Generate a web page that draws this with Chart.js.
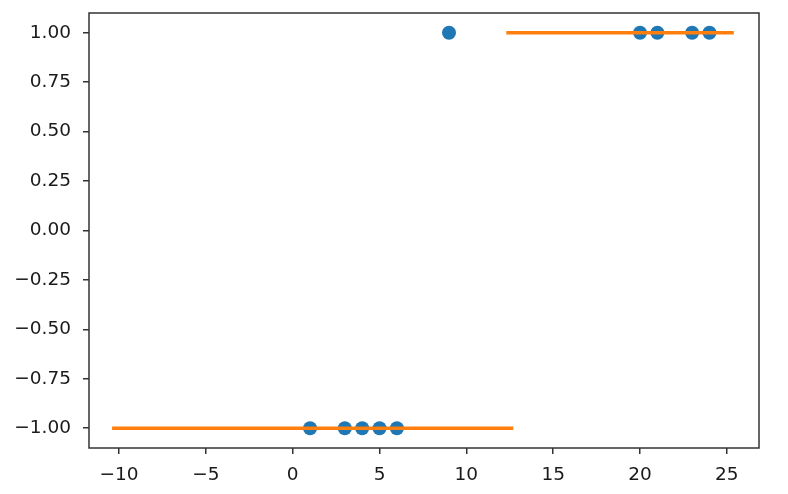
<!DOCTYPE html>
<html>
<head>
<meta charset="utf-8">
<script src="https://cdn.jsdelivr.net/npm/chart.js@4"></script>
<style>
  html, body { margin: 0; padding: 0; background: #fff; }
  #wrap { width: 788px; height: 494px; }
</style>
</head>
<body>
<div id="wrap"><canvas id="c"></canvas></div>
<script>
// sample points (label -1 / +1)
const pointX = [1, 3, 4, 5, 6, 9, 20, 21, 23, 24]
const pointY = [-1, -1, -1, -1, -1, 1, 1, 1, 1, 1]

// fitted step, two flat pieces
const lowLineX = [-10.3, 12.6]
const lowLineY = [-1, -1]
const highLineX = [12.4, 25.3]
const highLineY = [1, 1]

const xTicks = [-10, -5, 0, 5, 10, 15, 20, 25]
const yTicks = [-1, -0.75, -0.5, -0.25, 0, 0.25, 0.5, 0.75, 1]

const zip = (xs, ys) => xs.map((x, i) => ({ x: x, y: ys[i] }))
const minus = v => (v < 0 ? '\u2212' : '')

const font = { family: 'DejaVu Sans', size: 18.5 }
const ink = '#1a1a1a'
const spine = '#333'

// matplotlib style frame on all four sides
const frame = {
    id: 'frame',
    afterDatasetsDraw(chart) {
        const a = chart.chartArea
        const ctx = chart.ctx
        ctx.save()
        ctx.strokeStyle = spine
        ctx.lineWidth = 1.5
        ctx.strokeRect(a.left, a.top, a.right - a.left, a.bottom - a.top)
        ctx.restore()
    }
}

new Chart(document.getElementById('c').getContext('2d'), {
    type: 'scatter',
    data: {
        datasets: [
            {
                type: 'line', data: zip(lowLineX, lowLineY), order: 0,
                borderColor: '#ff7f0e', borderWidth: 3.5, borderCapStyle: 'square',
                pointRadius: 0, fill: false
            },
            {
                type: 'line', data: zip(highLineX, highLineY), order: 0,
                borderColor: '#ff7f0e', borderWidth: 3.5, borderCapStyle: 'square',
                pointRadius: 0, fill: false
            },
            {
                data: zip(pointX, pointY), order: 1,
                backgroundColor: '#1f77b4', borderWidth: 0, pointRadius: 7
            }
        ]
    },
    options: {
        responsive: true,
        maintainAspectRatio: false,
        animation: false,
        layout: { padding: { top: 13, right: 29, left: 0, bottom: 0 } },
        plugins: { legend: { display: false }, tooltip: { enabled: false } },
        scales: {
            x: {
                type: 'linear', min: -11.73, max: 26.85,
                afterBuildTicks: s => { s.ticks = xTicks.map(v => ({ value: v })) },
                afterFit: s => { s.height = 46; s.paddingLeft = 0; s.paddingRight = 0 },
                grid: { drawOnChartArea: false, tickLength: 6, color: spine, lineWidth: 1.5 },
                border: { display: false },
                ticks: {
                    font: font, color: ink, padding: 10, maxRotation: 0,
                    callback: v => minus(v) + Math.abs(v)
                }
            },
            y: {
                type: 'linear', min: -1.1, max: 1.1,
                afterBuildTicks: s => { s.ticks = yTicks.map(v => ({ value: v })) },
                afterFit: s => { s.width = 89; s.paddingTop = 0; s.paddingBottom = 0 },
                grid: { drawOnChartArea: false, tickLength: 6, color: spine, lineWidth: 1.5 },
                border: { display: false },
                ticks: {
                    font: font, color: ink, padding: 12,
                    callback: v => minus(v) + Math.abs(v).toFixed(2)
                }
            }
        }
    },
    plugins: [frame]
})
</script>
</body>
</html>
